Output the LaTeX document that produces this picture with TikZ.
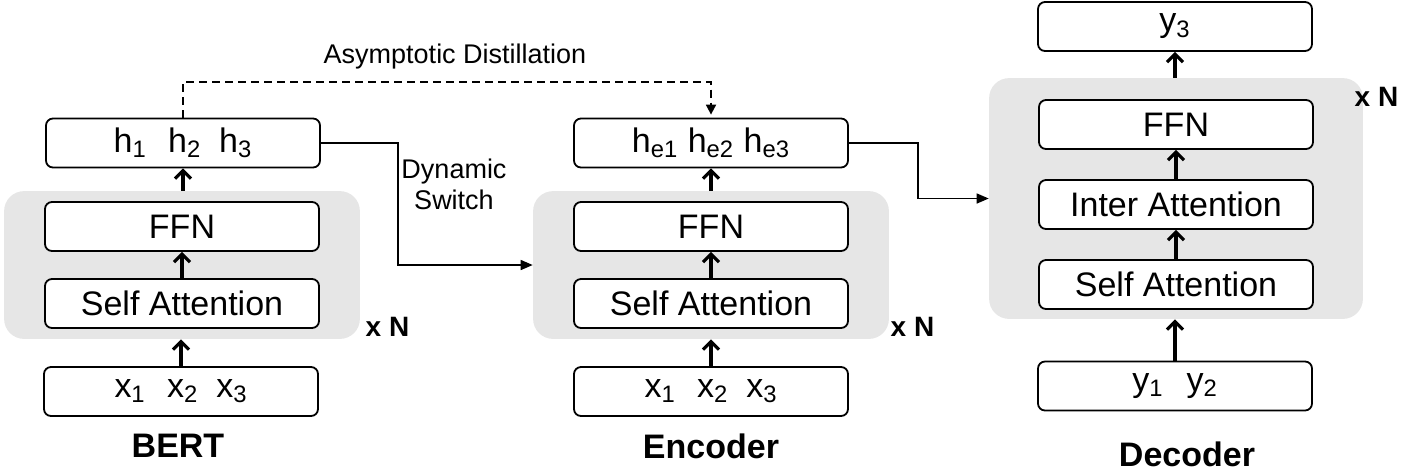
\documentclass[tikz,border=0pt]{standalone}
\usepackage{fontspec}
\setmainfont{Liberation Sans}
\usetikzlibrary{positioning,fit,arrows.meta,backgrounds}
\definecolor{layergray}{HTML}{E6E6E6}

\begin{document}
\begin{tikzpicture}[x=0.5pt, y=-0.5pt,
  block/.style={draw, fill=white, line width=0.9pt, rounded corners=3.5pt, minimum width=137pt, minimum height=24.5pt, inner sep=0pt, font=\fontsize{17}{20}\selectfont},
  layer/.style={fill=layergray, rounded corners=10pt, inner xsep=20pt, inner ysep=5pt},
  flow/.style={-{Straight Barb[length=4pt,width=8pt]}, line width=1.6pt},
  link/.style={-{Triangle[length=6pt,width=5pt]}, line width=0.7pt},
  distill/.style={-{Triangle[length=5pt,width=5pt]}, line width=0.9pt, dash pattern=on 4pt off 2.5pt},
  reps/.style={font=\bfseries\fontsize{14}{16}\selectfont, inner sep=0pt},
  title/.style={font=\bfseries\fontsize{17}{20}\selectfont, inner sep=0pt},
  note/.style={font=\fontsize{13.5}{15.5}\selectfont, align=center, inner sep=0pt}]

  \useasboundingbox (0,0) rectangle (1401,473);

  % BERT column
  \node[block] (bx) at (181,391.5) {x\textsubscript{1}\hspace{0.35em} x\textsubscript{2}\hspace{0.25em} x\textsubscript{3}};
  \node[block] (bsa) at (182,303.5) {Self Attention};
  \node[block] (bffn) at (182,226.5) {FFN};
  \node[block] (bh) at (183,143) {h\textsubscript{1}\hspace{0.35em} h\textsubscript{2}\hspace{0.25em} h\textsubscript{3}};

  % Encoder column
  \node[block] (ex) at (711,391.5) {x\textsubscript{1}\hspace{0.35em} x\textsubscript{2}\hspace{0.25em} x\textsubscript{3}};
  \node[block] (esa) at (711,303.5) {Self Attention};
  \node[block] (effn) at (711,226.5) {FFN};
  \node[block] (eh) at (711,143) {h\textsubscript{e1} h\textsubscript{e2} h\textsubscript{e3}};

  % Decoder column
  \node[block] (dy12) at (1175,386) {y\textsubscript{1}\hspace{0.4em} y\textsubscript{2}};
  \node[block] (dsa) at (1176,284.5) {Self Attention};
  \node[block] (dia) at (1176,204.5) {Inter Attention};
  \node[block] (dffn) at (1176,124.5) {FFN};
  \node[block] (dy3) at (1175,26.5) {y\textsubscript{3}};

  % Stacked layers
  \begin{scope}[on background layer]
    \node[layer, fit=(bffn)(bsa)] (blayer) {};
    \node[layer, fit=(effn)(esa)] (elayer) {};
    \node[layer, fit=(dffn)(dsa), inner xsep=24.5pt, inner ysep=7.5pt, yshift=3pt] (dlayer) {};
  \end{scope}

  % Labels
  \node[reps, anchor=base west] (brep) at ([xshift=2.5pt, yshift=1.5pt]blayer.south east) {x N};
  \node[reps, anchor=base west] (erep) at ([xshift=0.5pt, yshift=1.5pt]elayer.south east) {x N};
  \node[reps, anchor=base west] (drep) at ([xshift=-4.5pt, yshift=-14.5pt]dlayer.north east) {x N};
  \node[title, below=8.5pt of bx, xshift=-1.5pt] (bname) {BERT};
  \node[title, below=8.5pt of ex] (ename) {Encoder};
  \node[title, below=15pt of dy12, xshift=6pt] (dname) {Decoder};
  \node[note] (adist) at (455,57) {Asymptotic Distillation};
  \node[note] (dswitch) at (454,184) {Dynamic\\Switch};

  % Vertical arrows
  \draw[flow] (bx.north) -- (bx.north |- blayer.south);
  \draw[flow] (bsa.north) -- (bffn.south);
  \draw[flow] (bh.south |- blayer.north) -- (bh.south);
  \draw[flow] (ex.north) -- (ex.north |- elayer.south);
  \draw[flow] (esa.north) -- (effn.south);
  \draw[flow] (eh.south |- elayer.north) -- (eh.south);
  \draw[flow] (dy12.north) -- (dy12.north |- dlayer.south);
  \draw[flow] (dsa.north) -- (dia.south);
  \draw[flow] (dia.north) -- (dffn.south);
  \draw[flow] (dy3.south |- dlayer.north) -- (dy3.south);

  % Distillation and switch
  \draw[distill] (bh.north) -- ++(0,-36) -| ([yshift=1.5pt]eh.north);
  \draw[link] (bh.east) -- ++(77,0) |- (elayer.west);
  \draw[link] (eh.east) -- ++(69,0) |- (dlayer.west);

\end{tikzpicture}
\end{document}
